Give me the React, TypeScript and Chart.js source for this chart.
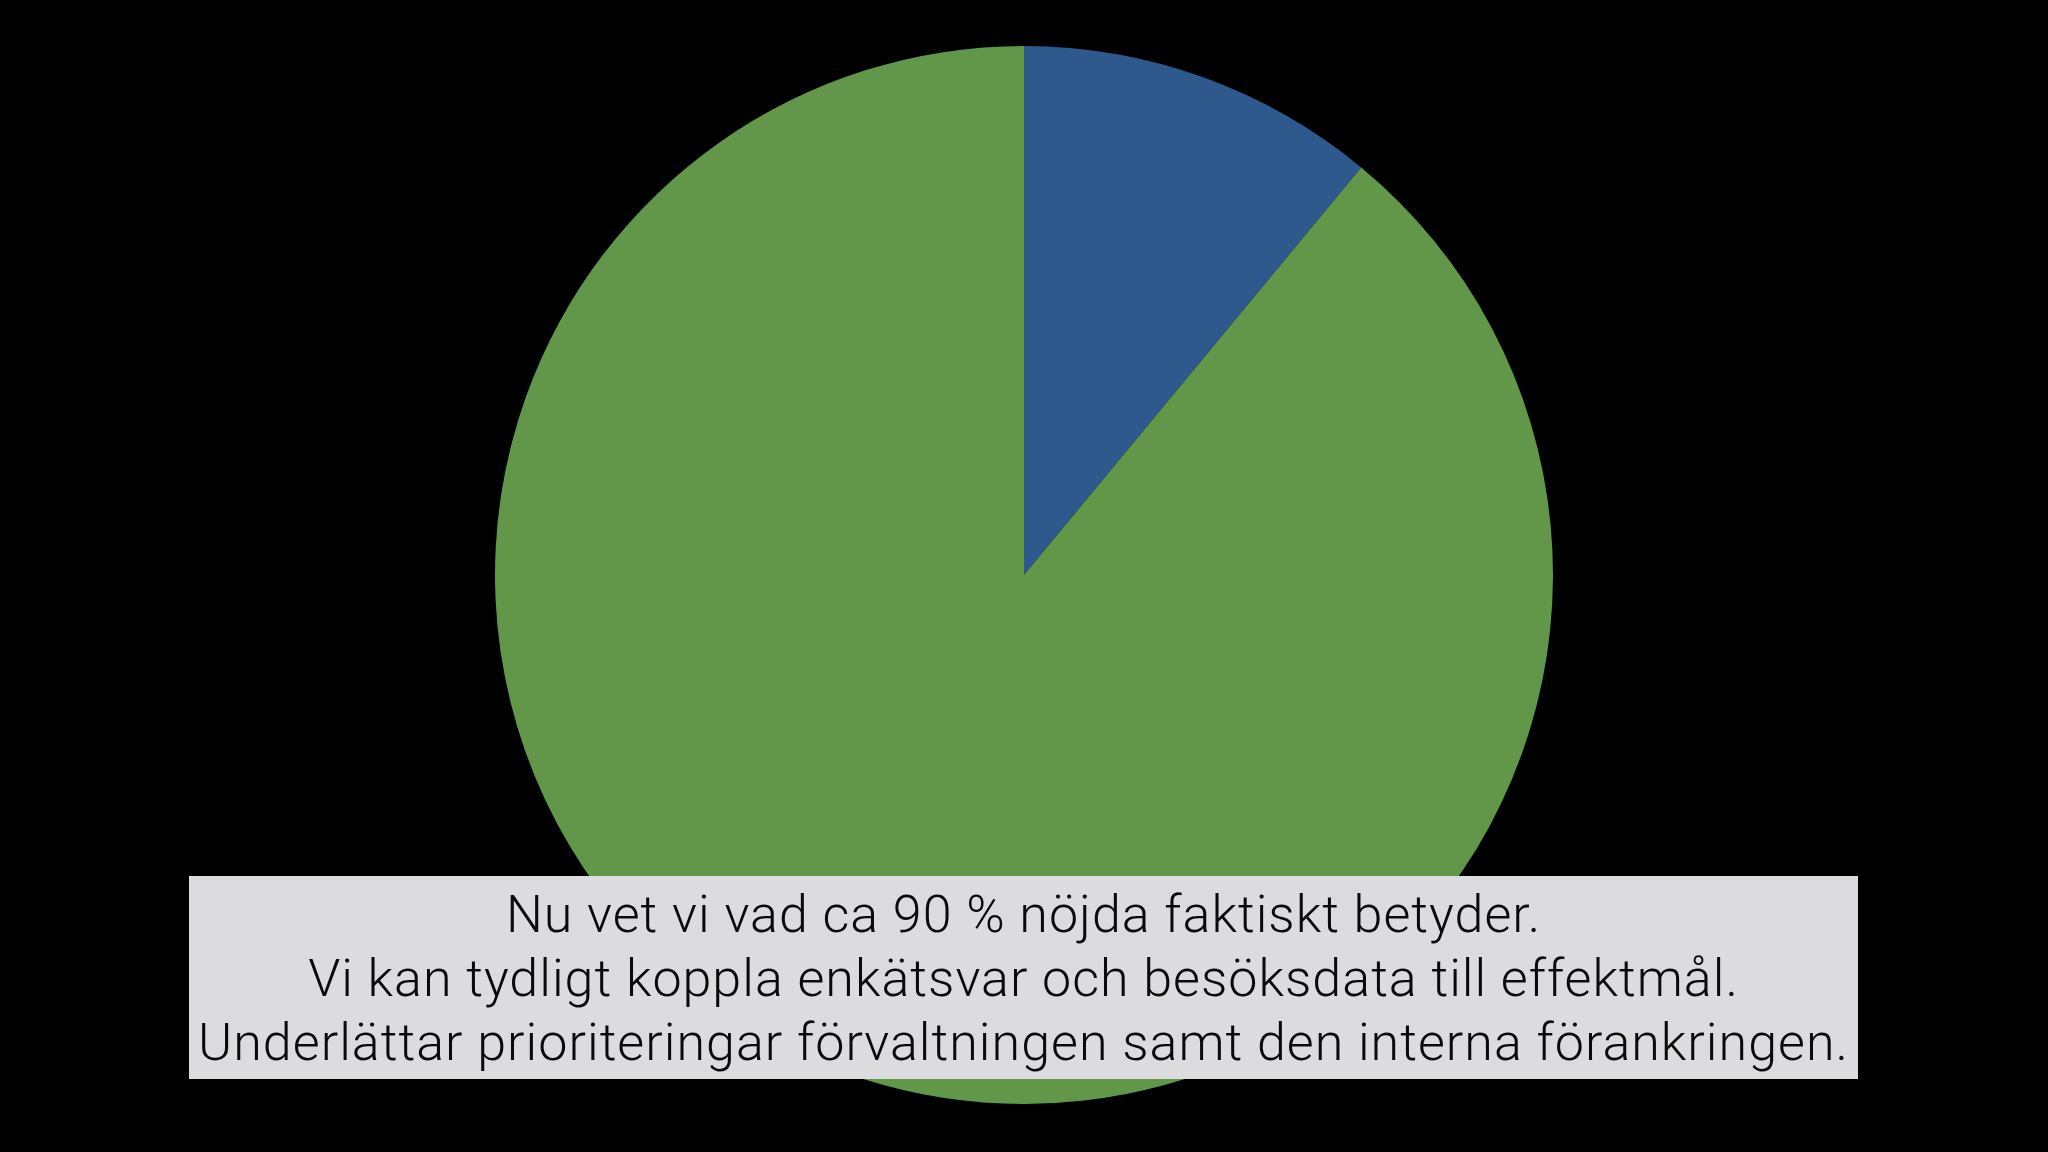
import React, { useEffect, useRef } from "react";
import { Chart, registerables } from "chart.js";

Chart.register(...registerables);

const categories = ["Inte nöjda", "Nöjda"];
const values = [11, 89];
const sliceColors = ["#2e598d", "#62974a"];
const captionLines = [
  "Nu vet vi vad ca 90 % nöjda faktiskt betyder.",
  "Vi kan tydligt koppla enkätsvar och besöksdata till effektmål.",
  "Underlättar prioriteringar förvaltningen samt den interna förankringen.",
];

export default function App() {
  const canvasRef = useRef<HTMLCanvasElement | null>(null);

  useEffect(() => {
    document.body.style.margin = "0";
    document.body.style.background = "#000";
    const canvas = canvasRef.current;
    if (!canvas) return;
    const chart = new Chart(canvas, {
      type: "pie",
      data: {
        labels: categories,
        datasets: [
          {
            data: values,
            backgroundColor: sliceColors,
            borderWidth: 0,
          },
        ],
      },
      options: {
        animation: false,
        responsive: false,
        maintainAspectRatio: false,
        layout: { padding: { top: 46, bottom: 48, left: 0, right: 0 } },
        plugins: {
          legend: { display: false },
          tooltip: { enabled: false },
          title: { display: false },
        },
      },
    });
    return () => chart.destroy();
  }, []);

  return (
    <div
      style={{
        position: "relative",
        width: 2048,
        height: 1152,
        background: "#000",
        overflow: "hidden",
      }}
    >
      <canvas
        ref={canvasRef}
        width={2048}
        height={1152}
        style={{ position: "absolute", left: 0, top: 0, width: 2048, height: 1152 }}
      />
      <div
        style={{
          position: "absolute",
          left: 189,
          top: 876,
          width: 1669,
          height: 203,
          background: "#dcdcde",
          boxSizing: "border-box",
          paddingTop: 7,
          textAlign: "center",
          fontFamily: "Roboto, 'Liberation Sans', sans-serif",
          fontWeight: 300,
          fontSize: 52,
          letterSpacing: "1px",
          lineHeight: "64px",
          color: "#0a0a0a",
          whiteSpace: "nowrap",
        }}
      >
        {captionLines.map((l, i) => (
          <div key={i}>{l}</div>
        ))}
      </div>
    </div>
  );
}
